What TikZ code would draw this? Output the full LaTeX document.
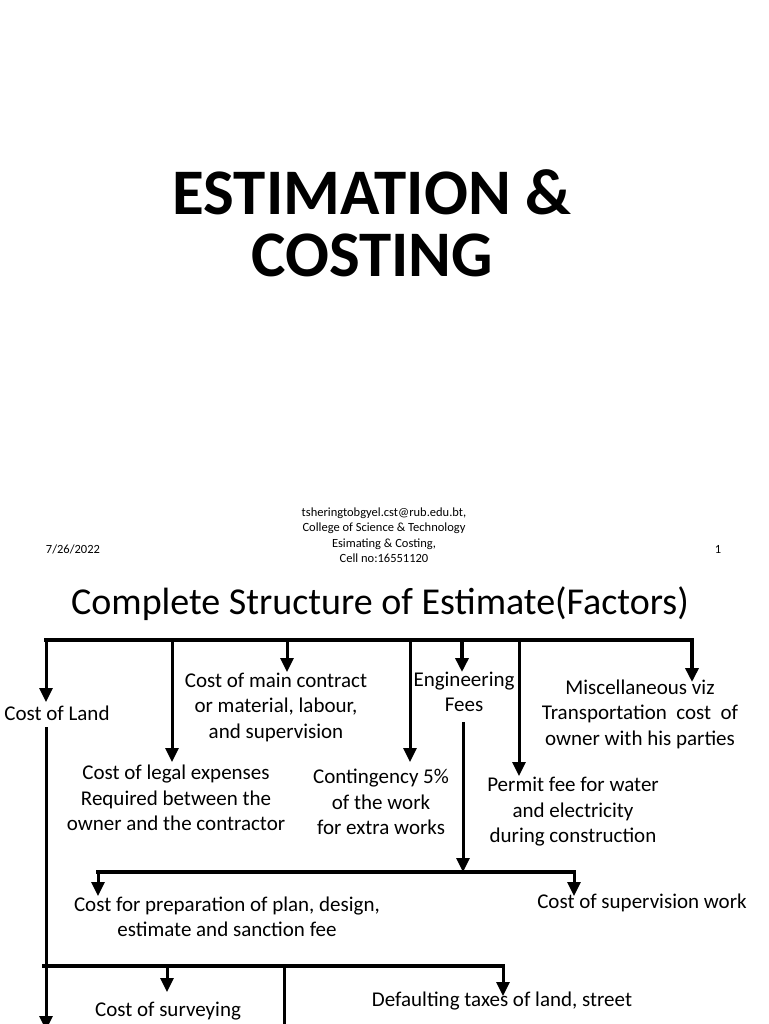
\documentclass[tikz,border=0pt]{standalone}
\usepackage{fontspec}
\setmainfont{Carlito}
\usetikzlibrary{arrows.meta}
\begin{document}
\begin{tikzpicture}[x=1pt,y=-1pt,
  txt/.style={align=center,font=\fontsize{21}{25.5}\selectfont,inner sep=0},
  bar/.style={line width=4.5pt},
  vline/.style={line width=3pt},
  arr/.style={line width=3pt,-{Triangle[width=13pt,length=14pt]}}]
\useasboundingbox[fill=white] (0,0) rectangle (768,1024);
\node[font=\bfseries\fontsize{65}{62}\selectfont,align=center] (title) at (372,223) {ESTIMATION \&\\COSTING};
\node[font=\fontsize{12.5}{15.5}\selectfont] (date) at (73,549) {7/26/2022};
\node[font=\fontsize{12.5}{15.5}\selectfont] (pg) at (718,549) {1};
\node[font=\fontsize{12.5}{15.5}\selectfont,align=center] (hdr) at (384,535) {tsheringtobgyel.cst@rub.edu.bt,\\College of Science \& Technology\\Esimating \& Costing,\\Cell no:16551120};
\node[font=\fontsize{38}{40}\selectfont] (sub) at (380,604) {Complete Structure of Estimate(Factors)};
% text nodes
\node[txt] (land) at (57,713) {Cost of Land};
\node[txt] (main) at (276,707) {Cost of main contract\\or material, labour,\\and supervision};
\node[txt] (eng) at (464,692) {Engineering\\Fees};
\node[txt] (misc) at (640,714) {Miscellaneous viz\\Transportation\ \ cost\ \ of\\owner with his parties};
\node[txt] (legal) at (176,798) {Cost of legal expenses\\Required between the\\owner and the contractor};
\node[txt] (cont) at (381,802) {Contingency 5\%\\of the work\\for extra works};
\node[txt] (perm) at (573,812) {Permit fee for water\\and electricity\\during construction};
\node[txt] (prep) at (227,917) {Cost for preparation of plan, design,\\estimate and sanction fee};
\node[txt] (sup) at (642,903) {Cost of supervision work};
\node[txt] (surv) at (168,1011) {Cost of surveying};
\node[txt] (tax) at (502,1001) {Defaulting taxes of land, street};
% coordinates
\coordinate (t0) at (44,640); \coordinate (t1) at (694,640);
\coordinate (tl) at (46,640); \coordinate (tg) at (172,640);
\coordinate (tm) at (287,640); \coordinate (tc) at (410,640);
\coordinate (te) at (462,640); \coordinate (tp) at (519,640);
\coordinate (tz) at (692,640);
\draw[bar] (t0) -- (t1);
\draw[arr] (tl) -- (46,702);
\draw[arr] (tg) -- (172,762);
\draw[arr] (tm) -- (287,672);
\draw[arr] (tc) -- (410,762);
\draw[arr,line width=3.5pt] (te) -- (462,672);
\draw[arr] (tp) -- (519,776);
\draw[arr,line width=3.5pt] (tz) -- (692,682);
% engineering sub-branch
\coordinate (e1) at (463,722); \coordinate (e2) at (463,872);
\draw[arr] (e1) -- (e2);
\coordinate (h0) at (96,872); \coordinate (h1) at (576,872);
\draw[bar] (h0) -- (h1);
\draw[arr] (98,872) -- (98,896);
\draw[arr] (574,872) -- (574,896);
% land sub-branch
\coordinate (l1) at (46,727); \coordinate (l2) at (46,1030);
\draw[arr] (l1) -- (l2);
\coordinate (g0) at (42,966); \coordinate (g1) at (505,966);
\draw[bar] (g0) -- (g1);
\draw[arr] (167,966) -- (167,992);
\draw[arr] (503,966) -- (503,996);
\draw[vline] (284,966) -- (284,1030);
\end{tikzpicture}
\end{document}
